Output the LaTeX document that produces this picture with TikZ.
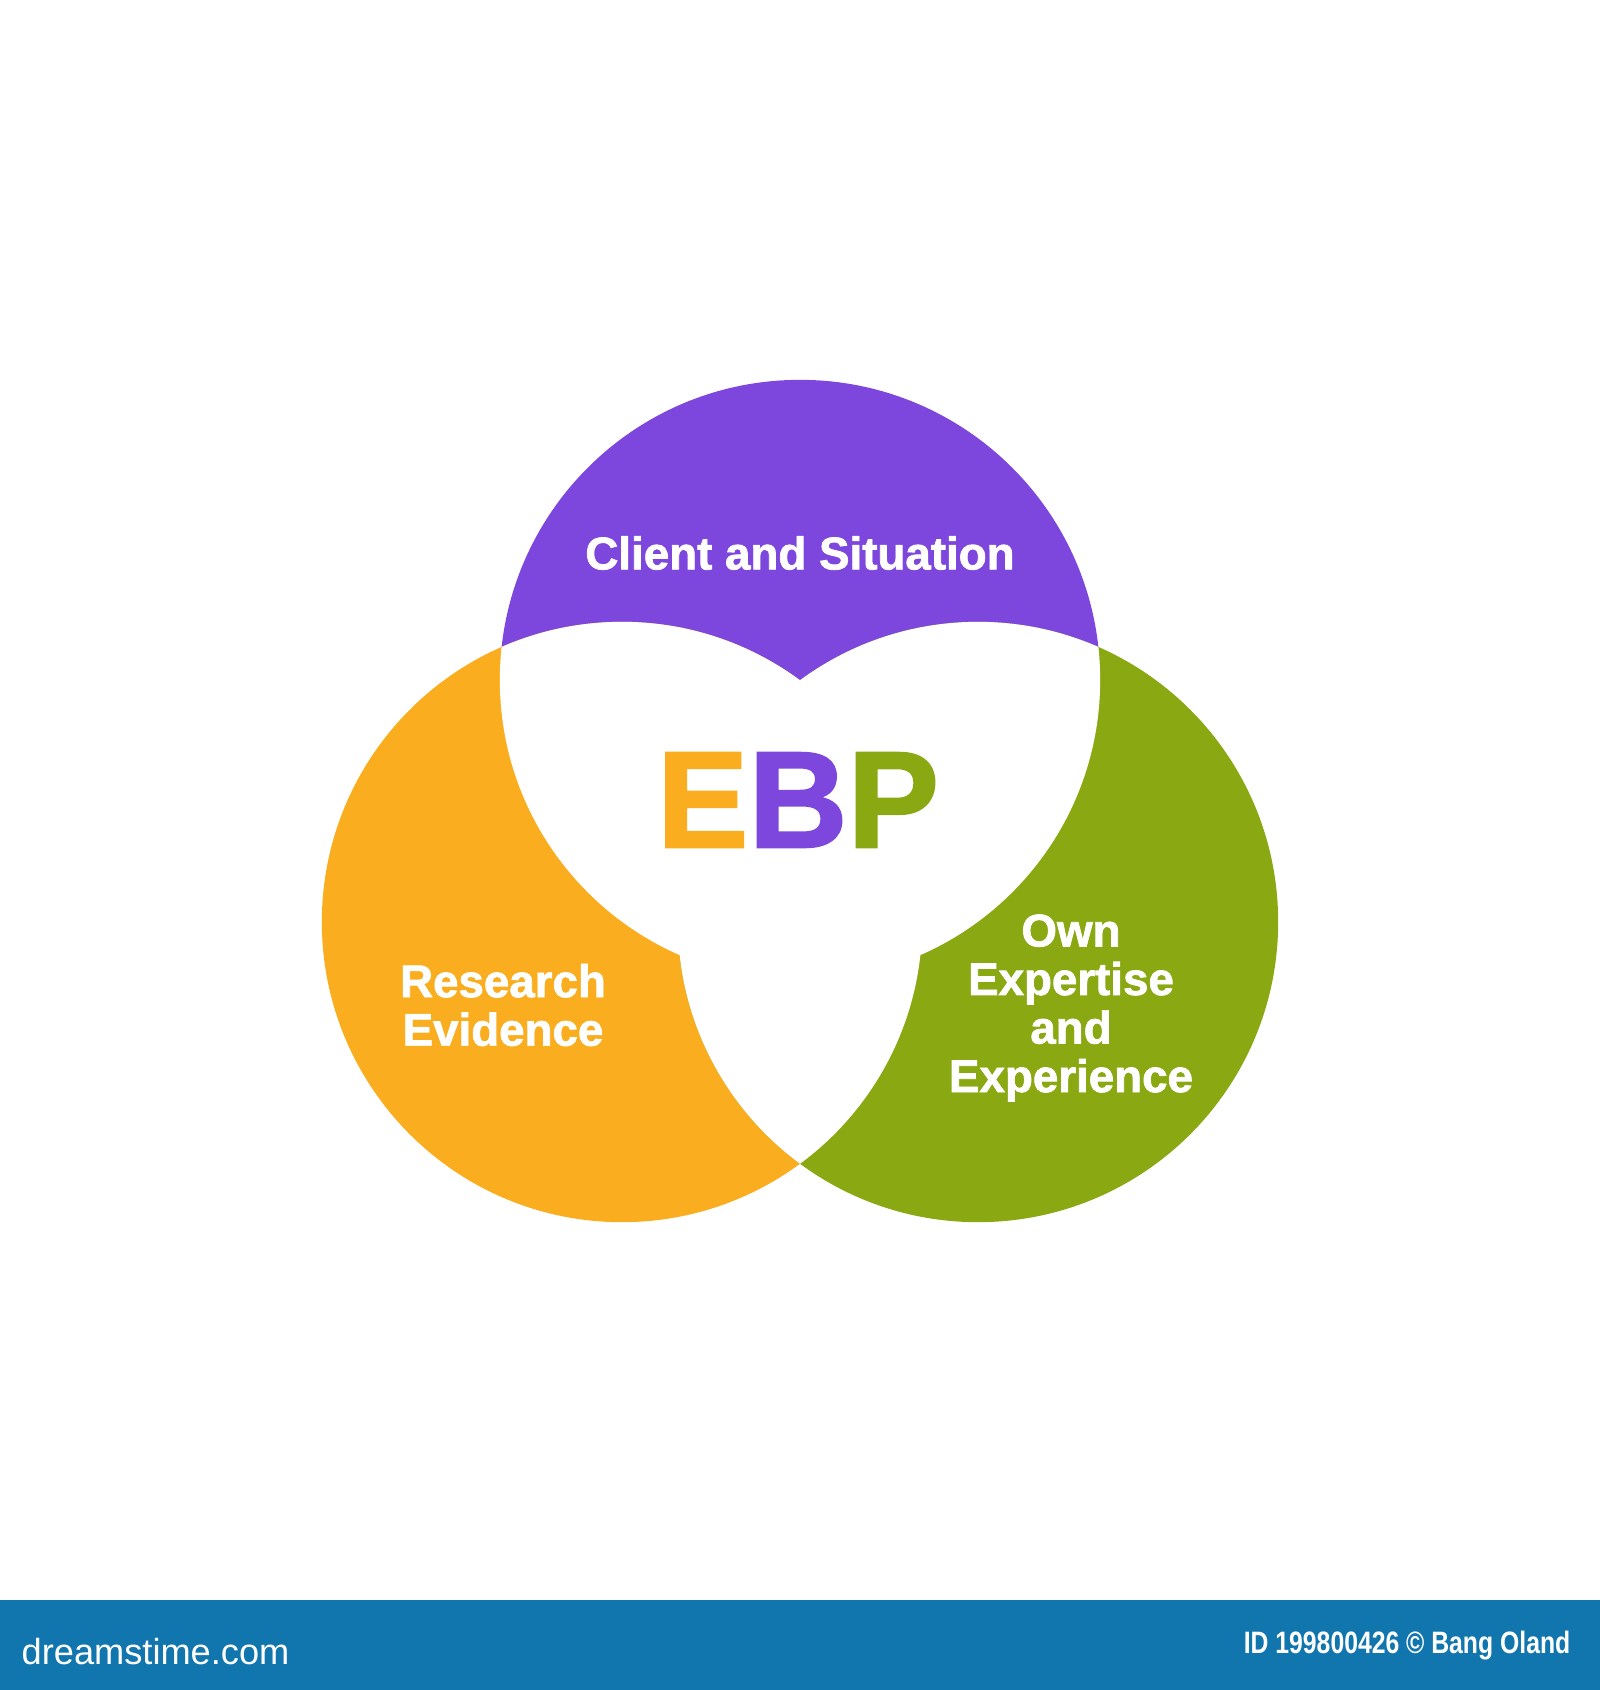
\documentclass[tikz,border=0pt]{standalone}
\usepackage{fontspec}
\setmainfont{Liberation Sans}
\newfontfamily\narrowfont{Liberation Sans}[FakeStretch=0.8]
\newfontfamily\heavyfont{Liberation Sans}[BoldFeatures={FakeBold=1.6}]
\definecolor{purp}{HTML}{7D47DD}
\definecolor{oran}{HTML}{FAAD1E}
\definecolor{gree}{HTML}{8AA812}
\definecolor{barblue}{HTML}{1176AE}

\begin{document}
\begin{tikzpicture}[x=0.01cm,y=-0.01cm,
	lbl/.style={text=white,align=center,inner sep=0pt,font=\heavyfont\bfseries\fontsize{13}{13.8}\selectfont},
	mark text/.style={text=white,inner sep=0pt}]
	\useasboundingbox (0,0) rectangle (1600,1690);
	\coordinate (p) at (800,680);
	\coordinate (o) at (622,922);
	\coordinate (g) at (978,922);
	\foreach \ctr/\col in {p/purp,o/oran,g/gree}
		\fill[\col] (\ctr) circle (3cm);
	% overlaps of two circles stay white
	\foreach \a/\b in {p/o,p/g,o/g} {
		\begin{scope}
			\clip (\a) circle (3cm);
			\fill[white] (\b) circle (3cm);
		\end{scope}
	}
	\node[lbl] (client) at (800,553) {Client and Situation};
	\node[lbl] (research) at (503,1005) {Research\\Evidence};
	\node[lbl] (own) at (1071,1008) {Own\\Expertise\\and\\Experience};
	\node[inner sep=0pt,font=\heavyfont\bfseries\fontsize{39}{40}\selectfont] (ebp) at (798,800)
		{\textcolor{oran}{E}\textcolor{purp}{B}\textcolor{gree}{P}};

	% bar at the bottom
	\fill[barblue] (0,1600) rectangle (1600,1690);
	\node[mark text,anchor=west,font=\fontsize{10.3}{12}\selectfont] (site) at (21,1652) {dreamstime.com};
	\node[mark text,anchor=east,font=\narrowfont\bfseries\fontsize{8.8}{10}\selectfont] (id) at (1571,1646) {ID 199800426 © Bang Oland};
\end{tikzpicture}
\end{document}
